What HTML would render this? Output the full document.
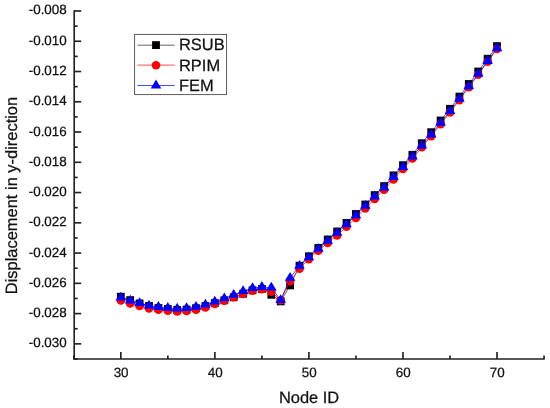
<!DOCTYPE html>
<html><head><meta charset="utf-8"><title>Displacement in y-direction</title>
<style>
html,body{margin:0;padding:0;background:#fff;}
body{width:550px;height:408px;overflow:hidden;font-family:"Liberation Sans",Arial,sans-serif;}
svg{display:block;}
text{font-family:"Liberation Sans",Arial,sans-serif;fill:#111;stroke:#111;stroke-width:0.25px;text-rendering:geometricPrecision;}
.tl{font-size:13.4px;}
.ti{font-size:16.45px;}
</style></head><body>
<svg width="550" height="408" viewBox="0 0 550 408">
<rect width="550" height="408" fill="#fff"/>

<g stroke="#222" stroke-width="1.65" fill="none" stroke-linecap="butt">
<path d="M74.2 10.2 V359.8"/>
<path d="M73.4 359 H544.7"/>
<path d="M74.2 11.00 h7"/>
<path d="M74.2 26.13 h3.5"/>
<path d="M74.2 41.26 h7"/>
<path d="M74.2 56.39 h3.5"/>
<path d="M74.2 71.52 h7"/>
<path d="M74.2 86.65 h3.5"/>
<path d="M74.2 101.78 h7"/>
<path d="M74.2 116.91 h3.5"/>
<path d="M74.2 132.04 h7"/>
<path d="M74.2 147.17 h3.5"/>
<path d="M74.2 162.30 h7"/>
<path d="M74.2 177.43 h3.5"/>
<path d="M74.2 192.56 h7"/>
<path d="M74.2 207.69 h3.5"/>
<path d="M74.2 222.82 h7"/>
<path d="M74.2 237.95 h3.5"/>
<path d="M74.2 253.08 h7"/>
<path d="M74.2 268.21 h3.5"/>
<path d="M74.2 283.34 h7"/>
<path d="M74.2 298.47 h3.5"/>
<path d="M74.2 313.60 h7"/>
<path d="M74.2 328.73 h3.5"/>
<path d="M74.2 343.86 h7"/>
<path d="M74.2 358.99 h3.5"/>
<path d="M73.80 359 v-3.5"/>
<path d="M120.82 359 v-7"/>
<path d="M167.85 359 v-3.5"/>
<path d="M214.88 359 v-7"/>
<path d="M261.90 359 v-3.5"/>
<path d="M308.93 359 v-7"/>
<path d="M355.95 359 v-3.5"/>
<path d="M402.98 359 v-7"/>
<path d="M450.00 359 v-3.5"/>
<path d="M497.02 359 v-7"/>
<path d="M544.05 359 v-3.5"/>
</g>
<text class="tl" x="66.7" y="14.4" text-anchor="end">-0.008</text>
<text class="tl" x="66.7" y="44.7" text-anchor="end">-0.010</text>
<text class="tl" x="66.7" y="75.0" text-anchor="end">-0.012</text>
<text class="tl" x="66.7" y="105.2" text-anchor="end">-0.014</text>
<text class="tl" x="66.7" y="135.5" text-anchor="end">-0.016</text>
<text class="tl" x="66.7" y="165.8" text-anchor="end">-0.018</text>
<text class="tl" x="66.7" y="196.0" text-anchor="end">-0.020</text>
<text class="tl" x="66.7" y="226.3" text-anchor="end">-0.022</text>
<text class="tl" x="66.7" y="256.5" text-anchor="end">-0.024</text>
<text class="tl" x="66.7" y="286.8" text-anchor="end">-0.026</text>
<text class="tl" x="66.7" y="317.1" text-anchor="end">-0.028</text>
<text class="tl" x="66.7" y="347.3" text-anchor="end">-0.030</text>
<text class="tl" x="121.1" y="376.8" text-anchor="middle">30</text>
<text class="tl" x="215.2" y="376.8" text-anchor="middle">40</text>
<text class="tl" x="309.2" y="376.8" text-anchor="middle">50</text>
<text class="tl" x="403.2" y="376.8" text-anchor="middle">60</text>
<text class="tl" x="497.3" y="376.8" text-anchor="middle">70</text>
<text class="ti" x="309.1" y="402.6" text-anchor="middle">Node ID</text>
<text class="ti" transform="translate(17.2 195.5) rotate(-90)" text-anchor="middle">Displacement in y-direction</text>
<rect x="134.6" y="34.4" width="92" height="60.2" fill="#fff" stroke="#4a4a4a" stroke-width="0.9"/>
<path d="M137.4 45.2 H174.7" stroke="#222" stroke-width="0.7"/>
<path d="M137.4 65.1 H174.7" stroke="#f00" stroke-width="0.7"/>
<path d="M137.4 85.5 H174.7" stroke="#00f" stroke-width="0.7"/>
<rect x="152.1" y="41.2" width="7.8" height="7.8" fill="#000"/>
<circle cx="156" cy="65.2" r="4.3" fill="#f00"/>
<path d="M156 79.6 L161.3 88.39999999999999 H150.7 Z" fill="#00f"/>
<text class="ti" x="179" y="50.3">RSUB</text>
<text class="ti" x="179" y="70.8">RPIM</text>
<text class="ti" x="179" y="91">FEM</text>
<polyline points="120.8,296.7 130.2,300.1 139.6,303.4 149.0,306.0 158.4,308.0 167.8,309.0 177.2,309.9 186.6,309.6 196.0,308.2 205.4,306.1 214.8,303.1 224.3,300.3 233.7,297.3 243.1,293.7 252.5,290.3 261.9,288.9 271.3,294.8 280.7,301.4 290.1,285.4 299.5,265.7 308.9,256.3 318.3,247.9 327.7,239.5 337.1,231.5 346.5,222.9 355.9,214.0 365.3,204.5 374.7,195.1 384.1,186.1 393.5,175.4 402.9,165.2 412.4,154.8 421.8,143.2 431.2,132.2 440.6,120.5 450.0,108.8 459.4,96.6 468.8,84.0 478.2,71.5 487.6,58.7 497.0,46.1" fill="none" stroke="#222" stroke-width="0.7"/>
<g fill="#000">
<rect x="116.9" y="292.8" width="7.8" height="7.8"/>
<rect x="126.3" y="296.2" width="7.8" height="7.8"/>
<rect x="135.7" y="299.5" width="7.8" height="7.8"/>
<rect x="145.1" y="302.1" width="7.8" height="7.8"/>
<rect x="154.5" y="304.1" width="7.8" height="7.8"/>
<rect x="163.9" y="305.1" width="7.8" height="7.8"/>
<rect x="173.3" y="306.0" width="7.8" height="7.8"/>
<rect x="182.7" y="305.7" width="7.8" height="7.8"/>
<rect x="192.1" y="304.3" width="7.8" height="7.8"/>
<rect x="201.5" y="302.2" width="7.8" height="7.8"/>
<rect x="210.9" y="299.2" width="7.8" height="7.8"/>
<rect x="220.4" y="296.4" width="7.8" height="7.8"/>
<rect x="229.8" y="293.4" width="7.8" height="7.8"/>
<rect x="239.2" y="289.8" width="7.8" height="7.8"/>
<rect x="248.6" y="286.4" width="7.8" height="7.8"/>
<rect x="258.0" y="285.0" width="7.8" height="7.8"/>
<rect x="267.4" y="290.9" width="7.8" height="7.8"/>
<rect x="276.8" y="297.5" width="7.8" height="7.8"/>
<rect x="286.2" y="281.5" width="7.8" height="7.8"/>
<rect x="295.6" y="261.8" width="7.8" height="7.8"/>
<rect x="305.0" y="252.4" width="7.8" height="7.8"/>
<rect x="314.4" y="244.0" width="7.8" height="7.8"/>
<rect x="323.8" y="235.6" width="7.8" height="7.8"/>
<rect x="333.2" y="227.6" width="7.8" height="7.8"/>
<rect x="342.6" y="219.0" width="7.8" height="7.8"/>
<rect x="352.0" y="210.1" width="7.8" height="7.8"/>
<rect x="361.4" y="200.6" width="7.8" height="7.8"/>
<rect x="370.8" y="191.2" width="7.8" height="7.8"/>
<rect x="380.2" y="182.2" width="7.8" height="7.8"/>
<rect x="389.6" y="171.5" width="7.8" height="7.8"/>
<rect x="399.1" y="161.3" width="7.8" height="7.8"/>
<rect x="408.5" y="150.9" width="7.8" height="7.8"/>
<rect x="417.9" y="139.3" width="7.8" height="7.8"/>
<rect x="427.3" y="128.3" width="7.8" height="7.8"/>
<rect x="436.7" y="116.6" width="7.8" height="7.8"/>
<rect x="446.1" y="104.9" width="7.8" height="7.8"/>
<rect x="455.5" y="92.7" width="7.8" height="7.8"/>
<rect x="464.9" y="80.1" width="7.8" height="7.8"/>
<rect x="474.3" y="67.6" width="7.8" height="7.8"/>
<rect x="483.7" y="54.8" width="7.8" height="7.8"/>
<rect x="493.1" y="42.2" width="7.8" height="7.8"/>
</g>
<polyline points="120.8,300.5 130.2,303.5 139.6,305.9 149.0,308.4 158.4,309.8 167.8,310.7 177.2,311.5 186.6,311.0 196.0,309.6 205.4,307.5 214.8,303.9 224.3,300.7 233.7,297.3 243.1,294.0 252.5,290.7 261.9,289.1 271.3,291.6 280.7,300.3 290.1,281.3 299.5,268.7 308.9,259.1 318.3,250.7 327.7,243.0 337.1,235.4 346.5,226.8 355.9,217.9 365.3,208.4 374.7,199.0 384.1,189.8 393.5,179.4 402.9,169.0 412.4,158.5 421.8,147.2 431.2,136.1 440.6,124.3 450.0,112.4 459.4,100.1 468.8,87.3 478.2,74.7 487.6,61.8 497.0,49.0" fill="none" stroke="#f00" stroke-width="0.7"/>
<g fill="#f00">
<circle cx="120.8" cy="300.5" r="4.3"/>
<circle cx="130.2" cy="303.5" r="4.3"/>
<circle cx="139.6" cy="305.9" r="4.3"/>
<circle cx="149.0" cy="308.4" r="4.3"/>
<circle cx="158.4" cy="309.8" r="4.3"/>
<circle cx="167.8" cy="310.7" r="4.3"/>
<circle cx="177.2" cy="311.5" r="4.3"/>
<circle cx="186.6" cy="311.0" r="4.3"/>
<circle cx="196.0" cy="309.6" r="4.3"/>
<circle cx="205.4" cy="307.5" r="4.3"/>
<circle cx="214.8" cy="303.9" r="4.3"/>
<circle cx="224.3" cy="300.7" r="4.3"/>
<circle cx="233.7" cy="297.3" r="4.3"/>
<circle cx="243.1" cy="294.0" r="4.3"/>
<circle cx="252.5" cy="290.7" r="4.3"/>
<circle cx="261.9" cy="289.1" r="4.3"/>
<circle cx="271.3" cy="291.6" r="4.3"/>
<circle cx="280.7" cy="300.3" r="4.3"/>
<circle cx="290.1" cy="281.3" r="4.3"/>
<circle cx="299.5" cy="268.7" r="4.3"/>
<circle cx="308.9" cy="259.1" r="4.3"/>
<circle cx="318.3" cy="250.7" r="4.3"/>
<circle cx="327.7" cy="243.0" r="4.3"/>
<circle cx="337.1" cy="235.4" r="4.3"/>
<circle cx="346.5" cy="226.8" r="4.3"/>
<circle cx="355.9" cy="217.9" r="4.3"/>
<circle cx="365.3" cy="208.4" r="4.3"/>
<circle cx="374.7" cy="199.0" r="4.3"/>
<circle cx="384.1" cy="189.8" r="4.3"/>
<circle cx="393.5" cy="179.4" r="4.3"/>
<circle cx="402.9" cy="169.0" r="4.3"/>
<circle cx="412.4" cy="158.5" r="4.3"/>
<circle cx="421.8" cy="147.2" r="4.3"/>
<circle cx="431.2" cy="136.1" r="4.3"/>
<circle cx="440.6" cy="124.3" r="4.3"/>
<circle cx="450.0" cy="112.4" r="4.3"/>
<circle cx="459.4" cy="100.1" r="4.3"/>
<circle cx="468.8" cy="87.3" r="4.3"/>
<circle cx="478.2" cy="74.7" r="4.3"/>
<circle cx="487.6" cy="61.8" r="4.3"/>
<circle cx="497.0" cy="49.0" r="4.3"/>
</g>
<polyline points="120.8,297.7 130.2,300.7 139.6,303.1 149.0,305.6 158.4,307.0 167.8,307.9 177.2,308.7 186.6,308.2 196.0,306.8 205.4,304.7 214.8,301.7 224.3,298.3 233.7,294.9 243.1,291.2 252.5,288.1 261.9,287.0 271.3,287.7 280.7,300.1 290.1,277.9 299.5,265.9 308.9,257.3 318.3,248.9 327.7,240.9 337.1,232.9 346.5,224.3 355.9,215.4 365.3,205.9 374.7,196.5 384.1,187.5 393.5,177.2 402.9,167.0 412.4,156.6 421.8,145.5 431.2,134.5 440.6,122.8 450.0,111.1 459.4,98.9 468.8,86.3 478.2,73.8 487.6,61.0 497.0,48.4" fill="none" stroke="#00f" stroke-width="0.7"/>
<g fill="#00f">
<path d="M120.8 291.8 L126.1 300.6 H115.5 Z"/>
<path d="M130.2 294.8 L135.5 303.6 H124.9 Z"/>
<path d="M139.6 297.2 L144.9 306.0 H134.3 Z"/>
<path d="M149.0 299.7 L154.3 308.5 H143.7 Z"/>
<path d="M158.4 301.1 L163.7 309.9 H153.1 Z"/>
<path d="M167.8 302.0 L173.1 310.8 H162.5 Z"/>
<path d="M177.2 302.8 L182.5 311.6 H171.9 Z"/>
<path d="M186.6 302.3 L191.9 311.1 H181.3 Z"/>
<path d="M196.0 300.9 L201.3 309.7 H190.7 Z"/>
<path d="M205.4 298.8 L210.7 307.6 H200.1 Z"/>
<path d="M214.8 295.8 L220.2 304.6 H209.5 Z"/>
<path d="M224.3 292.4 L229.6 301.2 H219.0 Z"/>
<path d="M233.7 289.0 L239.0 297.8 H228.4 Z"/>
<path d="M243.1 285.3 L248.4 294.1 H237.8 Z"/>
<path d="M252.5 282.2 L257.8 291.0 H247.2 Z"/>
<path d="M261.9 281.1 L267.2 289.9 H256.6 Z"/>
<path d="M271.3 281.8 L276.6 290.6 H266.0 Z"/>
<path d="M280.7 294.2 L286.0 303.0 H275.4 Z"/>
<path d="M290.1 272.0 L295.4 280.8 H284.8 Z"/>
<path d="M299.5 260.0 L304.8 268.8 H294.2 Z"/>
<path d="M308.9 251.4 L314.2 260.2 H303.6 Z"/>
<path d="M318.3 243.0 L323.6 251.8 H313.0 Z"/>
<path d="M327.7 235.0 L333.0 243.8 H322.4 Z"/>
<path d="M337.1 227.0 L342.4 235.8 H331.8 Z"/>
<path d="M346.5 218.4 L351.8 227.2 H341.2 Z"/>
<path d="M355.9 209.5 L361.2 218.3 H350.6 Z"/>
<path d="M365.3 200.0 L370.6 208.8 H360.0 Z"/>
<path d="M374.7 190.6 L380.0 199.4 H369.4 Z"/>
<path d="M384.1 181.6 L389.4 190.4 H378.8 Z"/>
<path d="M393.5 171.3 L398.8 180.1 H388.2 Z"/>
<path d="M402.9 161.1 L408.2 169.9 H397.6 Z"/>
<path d="M412.4 150.7 L417.7 159.5 H407.1 Z"/>
<path d="M421.8 139.6 L427.1 148.4 H416.5 Z"/>
<path d="M431.2 128.6 L436.5 137.4 H425.9 Z"/>
<path d="M440.6 116.9 L445.9 125.7 H435.3 Z"/>
<path d="M450.0 105.2 L455.3 114.0 H444.7 Z"/>
<path d="M459.4 93.0 L464.7 101.8 H454.1 Z"/>
<path d="M468.8 80.4 L474.1 89.2 H463.5 Z"/>
<path d="M478.2 67.9 L483.5 76.7 H472.9 Z"/>
<path d="M487.6 55.1 L492.9 63.9 H482.3 Z"/>
<path d="M497.0 42.5 L502.3 51.3 H491.7 Z"/>
</g>
</svg></body></html>
